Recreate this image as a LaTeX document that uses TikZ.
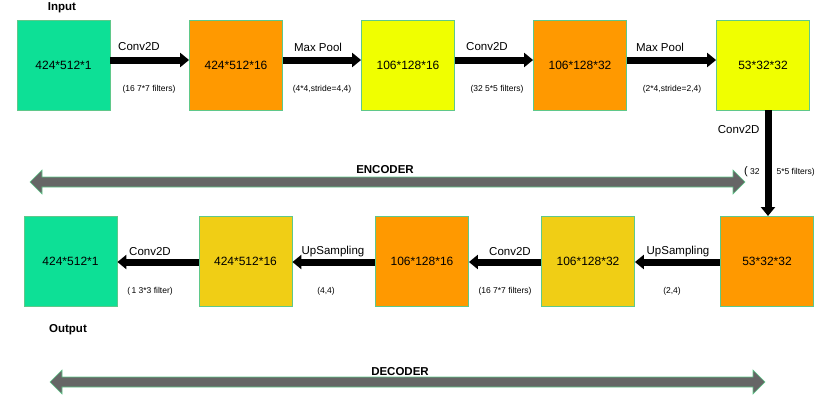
\documentclass[tikz,border=0pt]{standalone}
\usepackage{fontspec}
\setmainfont{Liberation Sans}
\usetikzlibrary{arrows.meta}
\definecolor{cgreen}{HTML}{0DE096}
\definecolor{corange}{HTML}{FF9900}
\definecolor{cyellow}{HTML}{F0FF00}
\definecolor{cdyellow}{HTML}{F0CE15}
\definecolor{cedge}{HTML}{5FC88A}
\definecolor{cgray}{HTML}{666666}
\begin{document}
\begin{tikzpicture}[x=1pt,y=-1pt,
  blk/.style={draw=cedge,line width=0.8pt,minimum width=93pt,minimum height=90pt,inner sep=0pt,font=\fontsize{12}{14}\selectfont},
  conn/.style={line width=7pt,-{Triangle[length=9pt,width=14pt]}},
  big/.style={font=\fontsize{11.5}{13}\selectfont},
  small/.style={font=\fontsize{8.5}{10}\selectfont},
  ttl/.style={font=\bfseries\fontsize{11.5}{13}\selectfont},
  band/.style={fill=cgray,draw=cedge,line width=0.6pt}]
\useasboundingbox (0,0) rectangle (840,413);
\node[blk,fill=cgreen] (a1) at (63.5,65) {424*512*1};
\node[blk,fill=corange] (a2) at (236,65) {424*512*16};
\node[blk,fill=cyellow] (a3) at (408,65) {106*128*16};
\node[blk,fill=corange] (a4) at (580,65) {106*128*32};
\node[blk,fill=cyellow] (a5) at (763,65) {53*32*32};
\node[blk,fill=cgreen] (b1) at (70.5,261) {424*512*1};
\node[blk,fill=cdyellow] (b2) at (245.5,261) {424*512*16};
\node[blk,fill=corange] (b3) at (422,261) {106*128*16};
\node[blk,fill=cdyellow] (b4) at (588,261) {106*128*32};
\node[blk,fill=corange] (b5) at (767,261) {53*32*32};
\draw[conn] (a1.east|-0,60) -- (a2.west|-0,60);
\draw[conn] (a2.east|-0,60) -- (a3.west|-0,60);
\draw[conn] (a3.east|-0,60) -- (a4.west|-0,60);
\draw[conn] (a4.east|-0,60) -- (a5.west|-0,60);
\draw[conn] (768,110) -- (768,216);
\draw[conn] (b5.west|-0,262) -- (b4.east|-0,262);
\draw[conn] (b4.west|-0,262) -- (b3.east|-0,262);
\draw[conn] (b3.west|-0,262) -- (b2.east|-0,262);
\draw[conn] (b2.west|-0,262) -- (b1.east|-0,262);
\node[big] (l1) at (139,47) {Conv2D};
\node[small] (s1) at (149,89) {(16 7*7 filters)};
\node[big] (l2) at (318,47) {Max Pool};
\node[small] (s2) at (322,89) {(4*4,stride=4,4)};
\node[big] (l3) at (487,47) {Conv2D};
\node[small] (s3) at (497,89) {(32 5*5 filters)};
\node[big] (l4) at (660,47) {Max Pool};
\node[small] (s4) at (672,89) {(2*4,stride=2,4)};
\node[big,anchor=east] (l5) at (763,130) {Conv2D};
\node[small,anchor=west,fill=white,inner sep=1pt] (s5a) at (743,172) {\fontsize{11}{12}\selectfont(\fontsize{8.5}{10}\selectfont~32};
\node[small,anchor=west] (s5b) at (773,172) {5*5 filters)};
\node[big] (l6) at (150,252) {Conv2D};
\node[small] (s6) at (150,291) {(\,1 3*3 filter)};
\node[big] (l7) at (333,252) {UpSampling};
\node[small] (s7) at (326,291) {(4,4)};
\node[big] (l8) at (510,252) {Conv2D};
\node[small] (s8) at (505,291) {(16 7*7 filters)};
\node[big] (l9) at (678,252) {UpSampling};
\node[small] (s9) at (672,291) {(2,4)};
\node[ttl] (in) at (62,8) {Input};
\node[ttl] (out) at (68,330) {Output};
\draw[band] (30,182) -- (42,170) -- (42,177) -- (733,177) -- (733,170) -- (745,182) -- (733,194) -- (733,187) -- (42,187) -- (42,194) -- cycle;
\node[ttl] (enc) at (385,170) {ENCODER};
\draw[band] (50,382) -- (62,370) -- (62,377) -- (753,377) -- (753,370) -- (765,382) -- (753,394) -- (753,387) -- (62,387) -- (62,394) -- cycle;
\node[ttl] (dec) at (400,372) {DECODER};
\end{tikzpicture}
\end{document}
